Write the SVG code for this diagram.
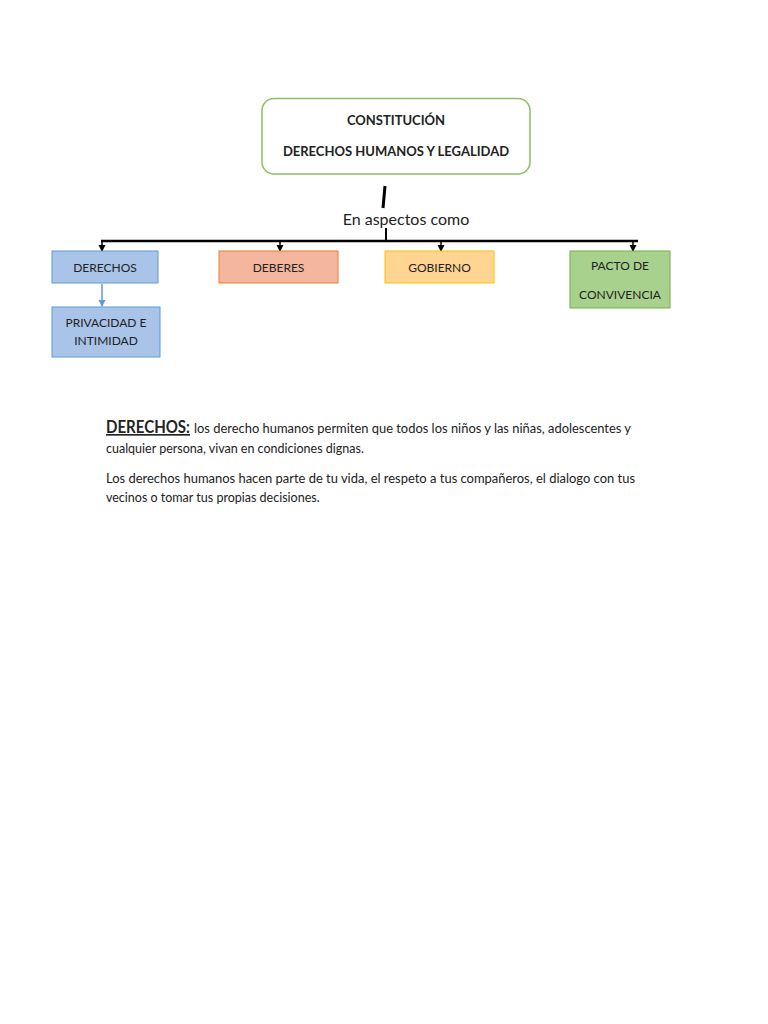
<svg xmlns="http://www.w3.org/2000/svg" width="768" height="1024" viewBox="0 0 768 1024">
<style>
text{font-family:Lato,"Liberation Sans",sans-serif;fill:#222}
.lbl{font-size:12px;text-anchor:middle}
.hd{font-size:13px;font-weight:bold;text-anchor:middle}
.body{font-size:12.5px}
</style>
<defs>
<marker id="ak" markerWidth="8" markerHeight="8" refX="4" refY="7" markerUnits="userSpaceOnUse" viewBox="0 0 8 8"><path d="M0.5,1 L7.5,1 L4,8 Z" fill="#000"/></marker>
<marker id="ab" markerWidth="8" markerHeight="8" refX="4" refY="7" markerUnits="userSpaceOnUse" viewBox="0 0 8 8"><path d="M0.5,1 L7.5,1 L4,8 Z" fill="#5b9bd5"/></marker>
</defs>
<rect width="768" height="1024" fill="#fff"/>
<g id="connectors">
<line x1="385" y1="186" x2="383" y2="208" stroke="#000" stroke-width="3"/>
<line x1="386" y1="228" x2="386" y2="241" stroke="#000" stroke-width="2"/>
<line x1="101" y1="241" x2="638" y2="241" stroke="#000" stroke-width="2.5"/>
<line x1="102" y1="241" x2="102" y2="251" stroke="#000" stroke-width="1.5" marker-end="url(#ak)"/>
<line x1="280" y1="241" x2="280" y2="251" stroke="#000" stroke-width="1.5" marker-end="url(#ak)"/>
<line x1="441" y1="241" x2="441" y2="251" stroke="#000" stroke-width="1.5" marker-end="url(#ak)"/>
<line x1="633" y1="241" x2="633" y2="251" stroke="#000" stroke-width="1.5" marker-end="url(#ak)"/>
<line x1="102" y1="284" x2="102" y2="306" stroke="#5b9bd5" stroke-width="1.5" marker-end="url(#ab)"/>
</g>
<g id="constitucion">
<rect x="262" y="98.5" width="268" height="75.5" rx="12" fill="#fff" stroke="#8ac160" stroke-width="1.5"/>
<text class="hd" x="396" y="125">CONSTITUCIÓN</text>
<text class="hd" x="396" y="156">DERECHOS HUMANOS Y LEGALIDAD</text>
</g>
<g id="aspectos">
<text x="406" y="225" font-size="16" text-anchor="middle">En aspectos como</text>
</g>
<g id="derechos">
<rect x="52" y="251" width="106" height="32" fill="#a9c4e8" stroke="#5b9bd5" stroke-width="1"/>
<text class="lbl" x="105" y="272">DERECHOS</text>
</g>
<g id="deberes">
<rect x="219" y="251" width="119" height="32" fill="#f4b69c" stroke="#ed7d31" stroke-width="1"/>
<text class="lbl" x="278.5" y="272">DEBERES</text>
</g>
<g id="gobierno">
<rect x="385" y="251" width="109" height="32" fill="#ffd591" stroke="#ffc000" stroke-width="1"/>
<text class="lbl" x="439.5" y="272">GOBIERNO</text>
</g>
<g id="pacto">
<rect x="570" y="251" width="100" height="57" fill="#a9d18e" stroke="#70ad47" stroke-width="1"/>
<text class="lbl" x="620" y="270">PACTO DE</text>
<text class="lbl" x="620" y="299">CONVIVENCIA</text>
</g>
<g id="privacidad">
<rect x="52" y="307" width="108" height="50" fill="#a9c4e8" stroke="#5b9bd5" stroke-width="1"/>
<text class="lbl" x="106" y="327">PRIVACIDAD E</text>
<text class="lbl" x="106" y="345">INTIMIDAD</text>
</g>
<g id="texto">
<text x="106" y="433" font-size="16.5" font-weight="bold" text-decoration="underline" textLength="84" lengthAdjust="spacingAndGlyphs">DERECHOS:</text>
<text class="body" x="194" y="433" textLength="437" lengthAdjust="spacingAndGlyphs">los derecho humanos permiten que todos los niños y las niñas, adolescentes y</text>
<text class="body" x="106" y="453">cualquier persona, vivan en condiciones dignas.</text>
<text class="body" x="106" y="483" textLength="529" lengthAdjust="spacingAndGlyphs">Los derechos humanos hacen parte de tu vida, el respeto a tus compañeros, el dialogo con tus</text>
<text class="body" x="106" y="502">vecinos o tomar tus propias decisiones.</text>
</g>
</svg>
